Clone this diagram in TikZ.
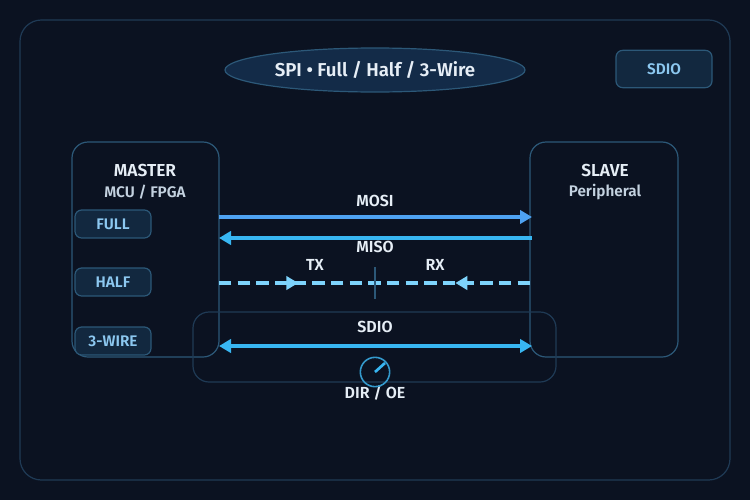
\documentclass[tikz,border=0pt]{standalone}
\usepackage{fontspec}
\setmainfont{Fira Sans}[BoldFont={Fira Sans SemiBold}]
\usetikzlibrary{arrows.meta,shapes.geometric,decorations.markings}
\definecolor{bgdark}{HTML}{0B1221}
\definecolor{frameline}{HTML}{1F3A55}
\definecolor{boxline}{HTML}{2C5878}
\definecolor{pillfill}{HTML}{12283F}
\definecolor{titlefill}{HTML}{132B48}
\definecolor{mosiblue}{HTML}{4EA2F2}
\definecolor{misoblue}{HTML}{38B6F2}
\definecolor{halfblue}{HTML}{7DD3FC}
\definecolor{txtwhite}{HTML}{E6EEF6}
\definecolor{txtsub}{HTML}{C4D2E0}
\definecolor{pilltext}{HTML}{8CC8F0}
\tikzset{
  lbl/.style={text=txtwhite,font=\fontsize{12}{14}\selectfont\bfseries,inner sep=0.75pt},
  sublbl/.style={text=txtsub,font=\fontsize{11.5}{13}\selectfont\bfseries,inner sep=0.75pt},
  pill/.style={draw=boxline,fill=pillfill,rounded corners=5pt,line width=0.9pt,
    minimum width=57pt,minimum height=21pt,text=pilltext,font=\fontsize{11.5}{13}\selectfont\bfseries},
  dev/.style={draw=boxline,rounded corners=12pt,line width=0.9pt},
  wire/.style={line width=2.6pt,-{Triangle[length=9pt,width=10pt]}},
  midtip/.style={decoration={markings,mark=at position #1 with {\arrow{Triangle[length=9pt,width=10pt]}}},postaction={decorate}}
}
\begin{document}
\begin{tikzpicture}[x=0.75pt,y=0.75pt,yscale=-1,xscale=1]
\fill[bgdark] (0,0) rectangle (750,500);
\draw[frameline,rounded corners=16pt,line width=0.9pt] (20,20) rectangle (730,480);

% title and badge
\node[ellipse,draw=boxline,fill=titlefill,line width=0.9pt,minimum width=225pt,minimum height=33pt,
  text=txtwhite,font=\fontsize{14}{16}\selectfont\bfseries] (title) at (375,70) {SPI • Full / Half / 3-Wire};
\node[pill,minimum width=72pt,minimum height=28pt] (sdiobadge) at (664,69) {SDIO};

% devices
\draw[dev] (72,142) rectangle (219,357);
\draw[dev] (530,142) rectangle (678,357);
\draw[frameline,rounded corners=12pt,line width=0.9pt] (193,312) rectangle (556,382);
\node[lbl,font=\fontsize{13}{15}\selectfont\bfseries] (master) at (145,170) {MASTER};
\node[sublbl] (mcu) at (145,192) {MCU / FPGA};
\node[lbl,font=\fontsize{13}{15}\selectfont\bfseries] (slave) at (605,170) {SLAVE};
\node[sublbl] (periph) at (605,192) {Peripheral};

% mode pills
\node[pill] (full) at (113,224) {FULL};
\node[pill] (half) at (113,282) {HALF};
\node[pill] (three) at (113,341) {3-WIRE};

% wire ends
\coordinate (mosiA) at (219,217); \coordinate (mosiB) at (532,217);
\coordinate (misoA) at (219,238); \coordinate (misoB) at (532,238);
\coordinate (halfA) at (219,283); \coordinate (halfB) at (530,283);
\coordinate (sdioA) at (219,346); \coordinate (sdioB) at (532,346);
\coordinate (tickT) at (375,267); \coordinate (tickB) at (375,299);

\draw[wire,mosiblue] (mosiA) -- (mosiB);
\draw[wire,misoblue] (misoB) -- (misoA);
\draw[halfblue,line width=2.6pt,dash pattern=on 9pt off 5pt,midtip=0.255] (halfA) -- (halfB);
\draw[halfblue,line width=2.6pt,dash pattern=on 9pt off 5pt,midtip=0.24] (halfB) -- (halfA);
\draw[boxline,line width=0.8pt] (tickT) -- (tickB);
\draw[misoblue,line width=2.6pt,{Triangle[length=9pt,width=10pt]}-{Triangle[length=9pt,width=10pt]}] (sdioA) -- (sdioB);

% labels
\node[lbl] (mosi) at (375,201) {MOSI};
\node[lbl] (miso) at (375,247) {MISO};
\node[lbl] (tx) at (315,265) {TX};
\node[lbl] (rx) at (435,265) {RX};
\node[lbl] (sdio) at (375,327) {SDIO};
\node[lbl] (dir) at (375,393) {DIR / OE};

% direction dial
\node[circle,draw=misoblue!70!boxline,line width=1.2pt,minimum size=22pt,inner sep=0pt] (dial) at (375,372) {};
\draw[misoblue,line width=2pt] (dial.center) -- ++(10,-9);
\end{tikzpicture}
\end{document}
